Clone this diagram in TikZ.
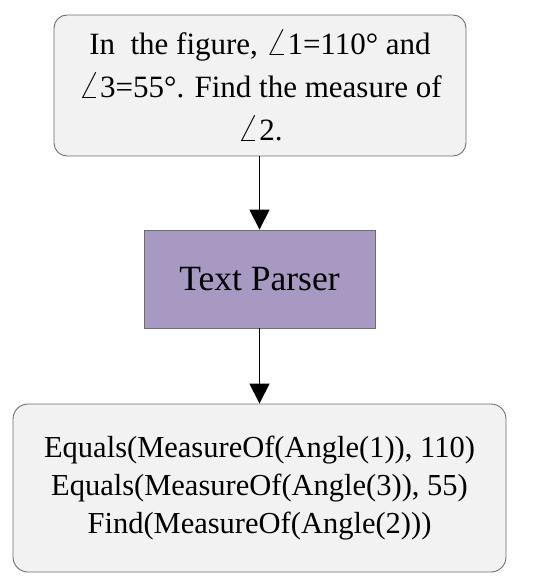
\documentclass[tikz,border=0pt]{standalone}
\usepackage{fontspec}
\setmainfont{Liberation Serif}
\usepackage{graphicx}
\usepackage{xcolor}
\usepackage{tikz}
\usetikzlibrary{arrows.meta}

\definecolor{boxgray}{HTML}{F2F2F2}
\definecolor{parserpurple}{HTML}{A899C2}
\definecolor{edgegray}{HTML}{6E6E6E}

\newcommand{\ang}{\scalebox{1.35}{$\angle$}}

\tikzset{
  textbox/.style={draw=edgegray, fill=boxgray, rounded corners=13pt, line width=0.9pt,
    align=center, inner sep=0pt},
  parserbox/.style={draw=edgegray, fill=parserpurple, line width=0.9pt,
    align=center, inner sep=0pt},
  flow/.style={-{Triangle[width=20pt,length=20pt]}, line width=1.6pt}
}

\begin{document}
\begin{tikzpicture}[x=1pt, y=1pt]
         \useasboundingbox (0, 0) rectangle (550, -588);
         \node [textbox, minimum width=412pt, minimum height=141pt,
           font=\fontsize{31}{43}\selectfont] (question) at (260, -85.5)
           {In\ \ the figure, \ang1=110° and\\ \ang3=55°. Find the measure of\\ \ang2.};
         \node [parserbox, minimum width=231pt, minimum height=98pt,
           font=\fontsize{35.5}{40}\selectfont] (parser) at (259.5, -279) {Text Parser};
         \node [textbox, rounded corners=15pt, minimum width=493pt, minimum height=168pt,
           font=\fontsize{30.5}{38}\selectfont] (literals) at (259.5, -488)
           {Equals(MeasureOf(Angle(1)), 110)\\ Equals(MeasureOf(Angle(3)), 55)\\ Find(MeasureOf(Angle(2)))};
         \draw [flow] (question.south -| parser.north) -- (parser.north);
         \draw [flow] (parser.south) -- (literals.north);
        \end{tikzpicture}
\end{document}
